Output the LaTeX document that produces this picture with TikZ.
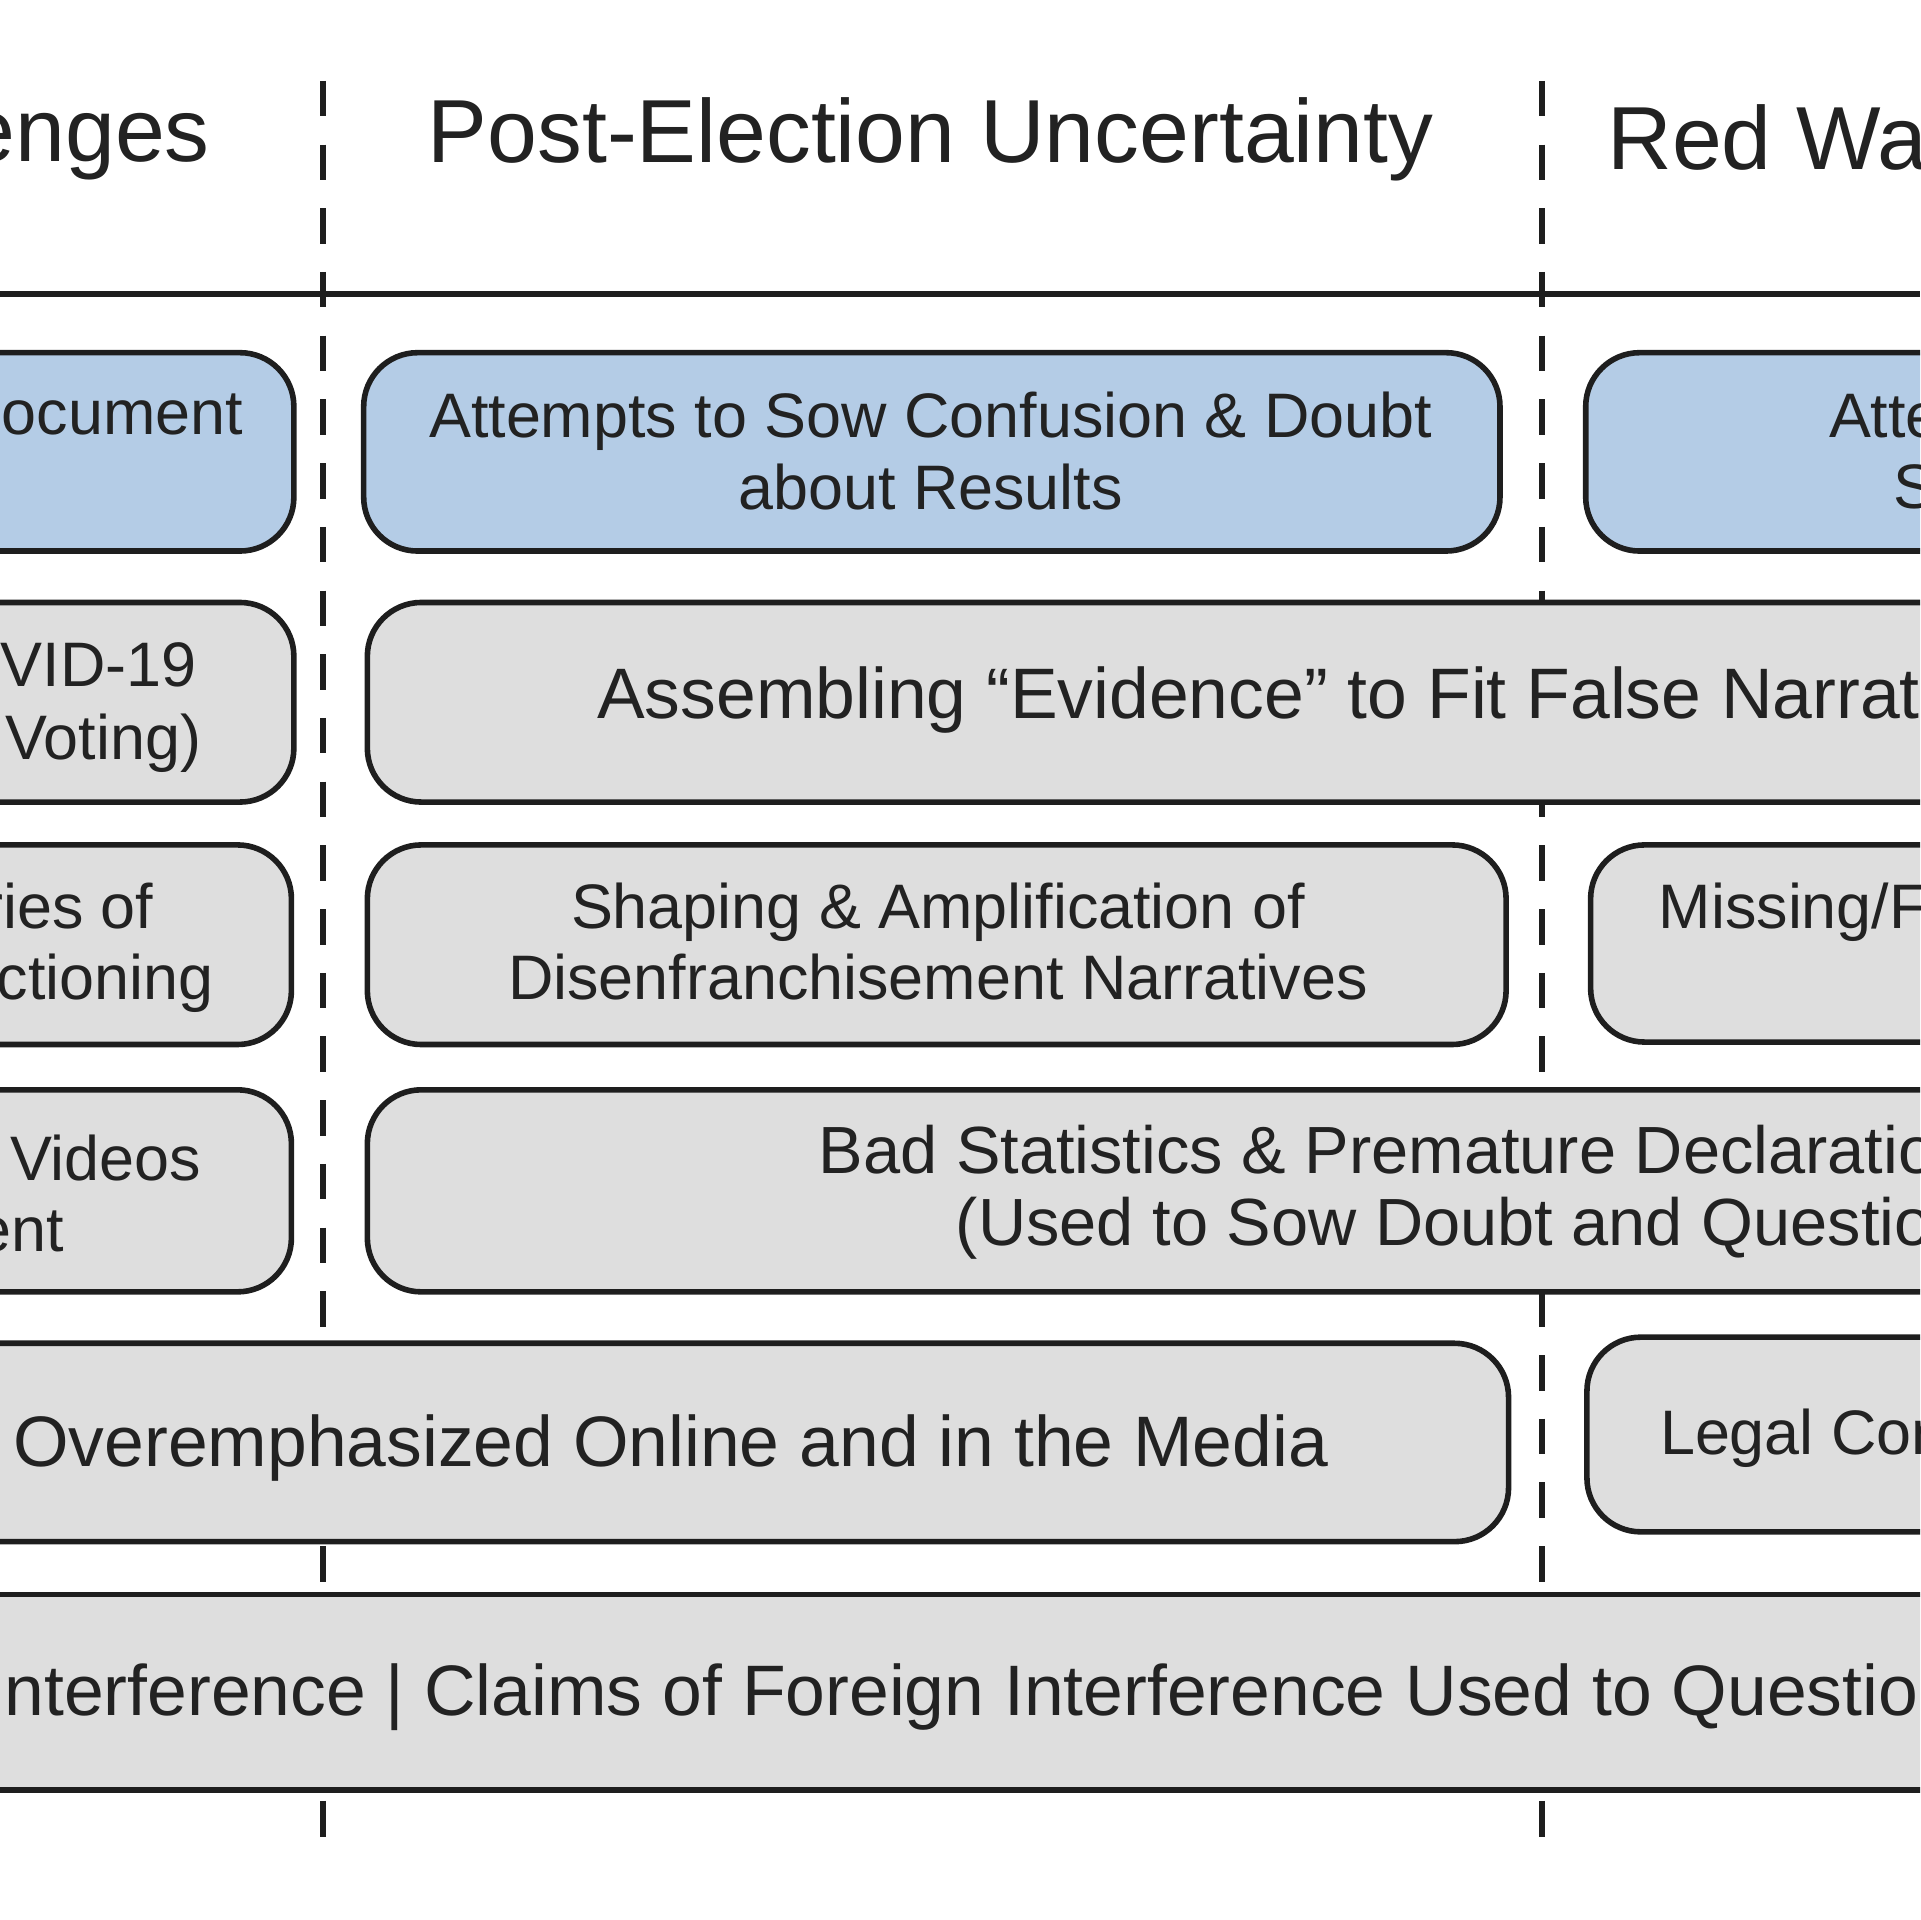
\documentclass[tikz,border=0pt]{standalone}
\usepackage{fontspec}
\setmainfont{Liberation Sans}
\usetikzlibrary{positioning}
\definecolor{PhaseBlue}{HTML}{B4CCE6}
\definecolor{PhaseGray}{HTML}{DEDEDE}
\definecolor{RuleDark}{HTML}{1E1E1E}
\definecolor{InkDark}{HTML}{222222}
\tikzset{
  phasebox/.style={draw=RuleDark,line width=1.3pt,rounded corners=0.44cm},
  rule/.style={draw=RuleDark,line width=1.3pt},
  divider/.style={draw=RuleDark,line width=1.4pt,dash pattern=on 0.29cm off 0.23cm},
  hdr/.style={text=InkDark,inner sep=0pt,font=\fontsize{20.8}{24}\selectfont},
  lbl/.style={text=InkDark,inner sep=0pt,font=\fontsize{14.6}{16.5}\selectfont},
  midlbl/.style={text=InkDark,inner sep=0pt,font=\fontsize{15.5}{17.5}\selectfont},
  biglbl/.style={text=InkDark,inner sep=0pt,font=\fontsize{16.6}{19}\selectfont},
}

\begin{document}
\begin{tikzpicture}[x=0.01cm,y=-0.01cm]
    \useasboundingbox (0,0) rectangle (1568,1568);
    \clip (0,0) rectangle (1568,1568);

    % Column dividers
    \draw[divider] (264,66) -- (264,1518);
    \draw[divider] (1259,66) -- (1259,1518);

    % Phase headers
    \node[hdr,anchor=base east] (hdrChallenges) at (172,132) {enges};
    \node[hdr,anchor=base] (hdrPost) at (760,133) {Post-Election Uncertainty};
    \node[hdr,anchor=base west] (hdrRed) at (1312,138) {Red Wa};
    \draw[rule] (0,240) -- (1568,240);

    % Row 1 (blue)
    \draw[phasebox,fill=PhaseBlue] (-300,288) rectangle (240,450);
    \draw[phasebox,fill=PhaseBlue] (297,288) rectangle (1225,450);
    \draw[phasebox,fill=PhaseBlue] (1295,288) rectangle (2000,450);
    \node[lbl,anchor=base east] (docA) at (199,355) {ocument};
    \node[lbl,anchor=base] (sowA) at (760,357) {Attempts to Sow Confusion \& Doubt};
    \node[lbl,anchor=base] (sowB) at (760,416) {about Results};
    \node[lbl,anchor=base west] (atteA) at (1493,357) {Atte};
    \node[lbl,anchor=base west] (atteB) at (1546,415) {S};

    % Row 2
    \draw[phasebox,fill=PhaseGray] (-300,492) rectangle (240,655);
    \draw[phasebox,fill=PhaseGray] (300,492) rectangle (2000,655);
    \node[lbl,anchor=base east] (covidA) at (161,561) {VID-19};
    \node[lbl,anchor=base east] (covidB) at (165,620) {Voting)};
    \node[biglbl,anchor=base west] (evidence) at (487,587) {Assembling “Evidence” to Fit False Narrat};

    % Row 3
    \draw[phasebox,fill=PhaseGray] (-300,690) rectangle (238,853);
    \draw[phasebox,fill=PhaseGray] (300,690) rectangle (1230,853);
    \draw[phasebox,fill=PhaseGray] (1299,690) rectangle (2000,851);
    \node[lbl,anchor=base east] (storiesA) at (126,758) {ries of};
    \node[lbl,anchor=base east] (storiesB) at (175,816) {ctioning};
    \node[lbl,anchor=base] (shapeA) at (766,758) {Shaping \& Amplification of};
    \node[lbl,anchor=base] (shapeB) at (766,816) {Disenfranchisement Narratives};
    \node[lbl,anchor=base west] (missing) at (1354,758) {Missing/F};

    % Row 4
    \draw[phasebox,fill=PhaseGray] (-300,890) rectangle (238,1055);
    \draw[phasebox,fill=PhaseGray] (300,890) rectangle (2000,1055);
    \node[lbl,anchor=base east] (videoA) at (165,964) {Videos};
    \node[lbl,anchor=base east] (videoB) at (53,1022) {ent};
    \node[midlbl,anchor=base west] (statsA) at (668,958) {Bad Statistics \& Premature Declaratio};
    \node[midlbl,anchor=base west] (statsB) at (780,1017) {(Used to Sow Doubt and Questio};

    % Row 5
    \draw[phasebox,fill=PhaseGray] (-300,1097) rectangle (1232,1259);
    \draw[phasebox,fill=PhaseGray] (1296,1092) rectangle (2000,1251);
    \node[biglbl,anchor=base west] (media) at (10,1198) {Overemphasized Online and in the Media};
    \node[lbl,anchor=base west] (legal) at (1355,1188) {Legal Con};

    % Foreign interference band
    \draw[rule,fill=PhaseGray] (-20,1302) rectangle (1600,1462);
    \node[biglbl,anchor=base west] (foreign) at (3,1401) {nterference | Claims of Foreign Interference Used to Questio};
\end{tikzpicture}
\end{document}
